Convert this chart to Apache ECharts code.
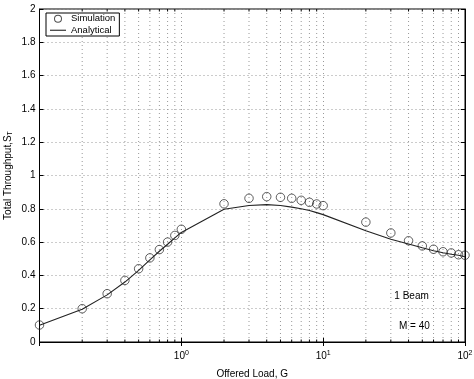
<!DOCTYPE html>
<html><head><meta charset="utf-8">
<script src="https://cdn.jsdelivr.net/npm/echarts@6/dist/echarts.min.js"></script>
<style>html,body{margin:0;padding:0;background:#fff}#c{width:474px;height:379px}</style>
</head><body><div id="c"></div>
<script>
const G = [0.1,0.2,0.3,0.4,0.5,0.6,0.7,0.8,0.9,1,2,3,4,5,6,7,8,9,10,20,30,40,50,60,70,80,90,100];
const simulation = [0.102,0.2,0.29,0.37,0.44,0.505,0.555,0.6,0.64,0.677,0.83,0.863,0.873,0.869,0.863,0.851,0.839,0.829,0.819,0.72,0.655,0.608,0.577,0.557,0.542,0.535,0.524,0.521];
const analytical = [0.1,0.197,0.283,0.36,0.43,0.493,0.545,0.587,0.625,0.658,0.797,0.82,0.825,0.82,0.81,0.8,0.79,0.777,0.765,0.668,0.617,0.589,0.566,0.548,0.536,0.527,0.521,0.512];
const minorX = [0.2,0.3,0.4,0.5,0.6,0.7,0.8,0.9,2,3,4,5,6,7,8,9,20,30,40,50,60,70,80,90];
const annotations = [{text:'1 Beam', x:42, y:0.272},{text:'M = 40', x:44, y:0.096}];
const font = 'Liberation Sans, Arial, sans-serif';

const chart = echarts.init(document.getElementById('c'));
const xLabel = v => {
  const e = Math.round(Math.log10(v));
  if (e < 0) return '';
  return '10{sup|' + e + '}';
};
const baseX = {
  type:'log', logBase:10, min:0.1, max:100, gridIndex:0
};
chart.setOption({
  animation:false,
  backgroundColor:'#fff',
  grid:{left:39.5, right:9, top:9, bottom:37, show:true, borderColor:'#000', borderWidth:1, backgroundColor:'#fff',
    containLabel:false, outerBoundsMode:'none'},
  legend:{
    left:46, top:13, orient:'vertical', itemWidth:16, itemHeight:8, itemGap:0,
    padding:[0,4,0,4], borderColor:'#000', borderWidth:1, backgroundColor:'#fff', borderRadius:0,
    textStyle:{fontFamily:font, fontSize:9.5, color:'#000', lineHeight:11.5},
    data:[
      {name:'Simulation', icon:'path://M0,4a4,4 0 1,0 8,0a4,4 0 1,0 -8,0Z M1,4a3,3 0 1,1 6,0a3,3 0 1,1 -6,0Z',
        itemStyle:{color:'#222', borderWidth:0}},
      {name:'Analytical', icon:'path://M0,0H16V1.1H0Z', itemStyle:{color:'#222', borderWidth:0}}
    ]
  },
  xAxis:[
    Object.assign({}, baseX, {
      position:'bottom',
      name:'Offered Load, G', nameLocation:'middle', nameGap:27, nameMoveOverlap:false,
      nameTextStyle:{fontFamily:font, fontSize:10, color:'#000'},
      axisLine:{show:true, lineStyle:{color:'#000', width:1}},
      axisTick:{inside:true, length:4, lineStyle:{color:'#000'}},
      axisLabel:{margin:8, formatter:xLabel, fontFamily:font, fontSize:10, color:'#000',
        rich:{sup:{fontSize:7, verticalAlign:'top', padding:[0,0,6,0], fontFamily:font, color:'#000'}}},
      splitLine:{show:true, lineStyle:{color:'#999', type:[1,3], width:1}},
      minorTick:{show:false}
    }),
    Object.assign({}, baseX, {
      position:'top',
      axisLine:{show:true, lineStyle:{color:'#000'}},
      axisTick:{inside:true, length:4, lineStyle:{color:'#000'}},
      axisLabel:{show:false}, splitLine:{show:false}
    })
  ],
  yAxis:[
    {type:'value', min:0, max:2, interval:0.2, position:'left',
      name:'Total Throughput,S{sub|T}', nameLocation:'middle', nameGap:26, nameMoveOverlap:false,
      nameTextStyle:{fontFamily:font, fontSize:10, color:'#000',
        rich:{sub:{fontSize:7, verticalAlign:'bottom', fontFamily:font, color:'#000', padding:[4,0,0,0]}}},
      axisLine:{show:true, lineStyle:{color:'#000'}},
      axisTick:{inside:true, length:4, lineStyle:{color:'#000'}},
      axisLabel:{margin:4, fontFamily:font, fontSize:10, color:'#000',
        formatter: v => String(Math.round(v*10)/10)},
      splitLine:{show:true, lineStyle:{color:'#999', type:[1,3], width:1}}
    },
    {type:'value', min:0, max:2, interval:0.2, position:'right',
      axisLine:{show:true, lineStyle:{color:'#000'}},
      axisTick:{inside:true, length:4, lineStyle:{color:'#000'}},
      axisLabel:{show:false}, splitLine:{show:false}
    }
  ],
  series:[
    {
      type:'custom', name:'minorGrid', xAxisIndex:0, yAxisIndex:0, silent:true, z:1,
      data: minorX.map(v => [v]),
      renderItem:(params, api) => {
        const x = api.value(0);
        const p0 = api.coord([x, 0]);
        const p1 = api.coord([x, 2]);
        return {type:'group', children:[
          {type:'line', shape:{x1:p0[0], y1:p0[1], x2:p1[0], y2:p1[1]},
            style:{stroke:'#999', lineWidth:1, lineDash:[1,3]}},
          {type:'line', shape:{x1:p0[0], y1:p0[1], x2:p0[0], y2:p0[1]-2.5},
            style:{stroke:'#000', lineWidth:1}},
          {type:'line', shape:{x1:p1[0], y1:p1[1], x2:p1[0], y2:p1[1]+2.5},
            style:{stroke:'#000', lineWidth:1}}
        ]};
      }
    },
    {
      type:'line', name:'Analytical', xAxisIndex:0, yAxisIndex:0, z:3,
      data: G.map((g,i) => [g, analytical[i]]),
      symbol:'none', showSymbol:false, symbolKeepAspect:true,
      lineStyle:{color:'#222', width:1.1},
      itemStyle:{color:'#222'},
      markPoint:{
        symbol:'circle', symbolSize:0, silent:true,
        label:{show:true, position:'inside', fontFamily:font, fontSize:10, color:'#000',
          formatter: p => p.name},
        data: annotations.map(a => ({name:a.text, coord:[a.x, a.y]}))
      }
    },
    {
      type:'scatter', name:'Simulation', xAxisIndex:0, yAxisIndex:0, z:4,
      data: G.map((g,i) => [g, simulation[i]]),
      symbol:'circle', symbolSize:8.5, symbolKeepAspect:true,
      itemStyle:{color:'rgba(0,0,0,0)', borderColor:'#222', borderWidth:0.9}
    }
  ]
});
</script></body></html>
